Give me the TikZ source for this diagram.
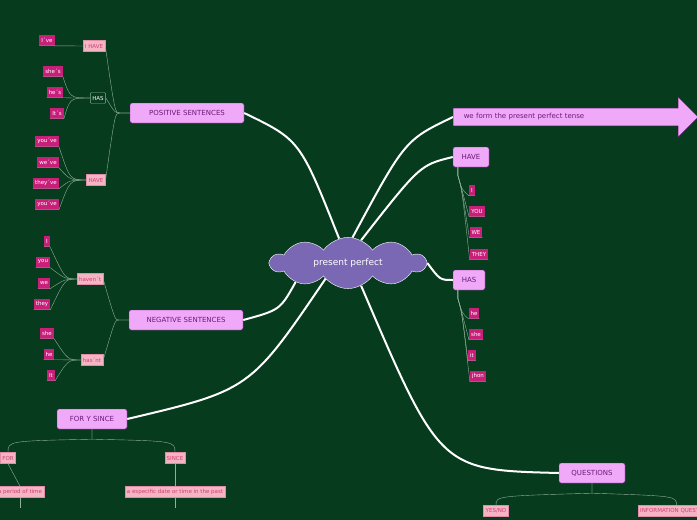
\documentclass[tikz,border=0pt]{standalone}
\usepackage{fontspec}
\setmainfont{DejaVu Sans}
\usetikzlibrary{shapes.symbols,shapes.arrows}
\definecolor{bg}{HTML}{073B1E}
\definecolor{topic}{HTML}{F0A8F8}
\definecolor{topicb}{HTML}{6A1B7A}
\definecolor{mag}{HTML}{C8207A}
\definecolor{lpink}{HTML}{F4B4C4}
\definecolor{lpinkt}{HTML}{D04070}
\definecolor{branch}{HTML}{8FB09A}
\definecolor{cloudc}{HTML}{7B68B4}
\tikzset{
 topic/.style={draw=topicb,fill=topic,rounded corners=2pt,text=topicb,font=\scriptsize,inner sep=4pt,minimum height=20pt},
 word/.style={fill=mag,text=white,font=\fontsize{5.5}{6}\selectfont,inner sep=2pt,minimum height=11pt},
 verb/.style={draw=lpinkt!60,fill=lpink,text=lpinkt,font=\fontsize{5.5}{6}\selectfont,inner sep=2pt,minimum height=11pt},
 main/.style={white,line width=2pt},
 sub/.style={branch,thin}
}
\begin{document}
\begin{tikzpicture}[x=1pt,y=-1pt]
\fill[bg] (0,0) rectangle (697,520);
\useasboundingbox (0,0) rectangle (697,520);
\clip (0,0) rectangle (697,520);
% main topics
\node[cloud,cloud puffs=10,cloud puff arc=110,aspect=3,fill=cloudc,draw=white,text=white,font=\small,minimum width=155pt,minimum height=48pt] (pp) at (348,263) {present perfect};
\node[topic,minimum width=114pt] (pos) at (187,113) {POSITIVE SENTENCES};
\node[topic,minimum width=114pt] (neg) at (186,320) {NEGATIVE SENTENCES};
\node[topic,minimum width=70pt] (fys) at (92,419) {FOR Y SINCE};
\node[single arrow,draw=topicb,fill=topic,text=topicb,font=\scriptsize,minimum height=245pt,minimum width=40pt,single arrow head extend=7pt,inner sep=2pt,anchor=west,text width=215pt] (form) at (453,117) {we form the present perfect tense};
\node[topic,minimum width=36pt] (have) at (471,157) {HAVE};
\node[topic,minimum width=32pt] (has) at (469,280) {HAS};
\node[topic,minimum width=66pt] (qst) at (592,473) {QUESTIONS};
\draw[main] (pp.110) .. controls (300,140) .. (pos.east);
\draw[main] (pp.200) .. controls (280,310) .. (neg.east);
\draw[main] (pp.215) .. controls (250,390) .. (fys.east);
\draw[main] (pp.80) .. controls (405,140) .. (form.west);
\draw[main] (pp.60) .. controls (420,165) .. (have.west);
\draw[main] (pp.0) .. controls (440,280) .. (has.west);
\draw[main] (pp.300) .. controls (440,470) .. (qst.west);
% positive
\node[verb] (ihave) at (94,46) {I HAVE};
\node[word] (ive) at (47,40) {I´ve};
\node[draw=branch,fill=bg,text=white,rounded corners=1pt,font=\fontsize{5.5}{6}\selectfont,inner sep=2pt,minimum height=11pt] (hasp) at (98,98) {HAS};
\node[word] (shes) at (53,71) {she´s};
\node[word] (hes) at (55,92) {he´s};
\node[word] (its) at (57,113) {It´s};
\node[verb] (havep) at (96,180) {HAVE};
\node[word] (youve) at (47,141) {you´ve};
\node[word] (weve) at (48,162) {we´ve};
\node[word] (theyve) at (46,183) {they´ve};
\node[word] (youve2) at (47,204) {you´ve};
\foreach \v in {ihave,hasp,havep} \draw[sub] (pos.west) -- ++(-10,0) .. controls (115,113) .. (\v.east);
\draw[sub] (ihave.west) -- (ive.south west);
\foreach \w in {shes,hes,its} \draw[sub] (hasp.west) .. controls (70,98) .. (\w.south east) -- (\w.south west);
\foreach \w in {youve,weve,theyve,youve2} \draw[sub] (havep.west) .. controls (70,180) .. (\w.south east) -- (\w.south west);
% negative
\node[verb] (havent) at (90,279) {haven´t};
\node[word] (ni) at (47,241) {I};
\node[word] (nyou) at (43,262) {you};
\node[word] (nwe) at (44,283) {we};
\node[word] (nthey) at (42,304) {they};
\node[verb] (hasnt) at (92,360) {has´nt};
\node[word] (nshe) at (47,333) {she};
\node[word] (nhe) at (49,354) {he};
\node[word] (nit) at (51,375) {It};
\foreach \v in {havent,hasnt} \draw[sub] (neg.west) -- ++(-10,0) .. controls (115,320) .. (\v.east);
\foreach \w in {ni,nyou,nwe,nthey} \draw[sub] (havent.west) .. controls (65,279) .. (\w.south east) -- (\w.south west);
\foreach \w in {nshe,nhe,nit} \draw[sub] (hasnt.west) .. controls (68,360) .. (\w.south east) -- (\w.south west);
% for y since
\node[verb] (for) at (8,458) {FOR};
\node[verb] (since) at (175,458) {SINCE};
\node[verb] (period) at (20,492) {a period of time};
\node[verb] (date) at (175,492) {a especific date or time in the past};
\foreach \v in {for,since} \draw[sub] (fys.south) -- ++(0,10) .. controls (\v |- 0,441) .. (\v.north);
\draw[sub] (for.south) -- (period.north);
\draw[sub] (since.south) -- (date.north);
\draw[sub] (period.south) -- ++(0,10);
\draw[sub] (date.south) -- ++(0,10);
% have / has
\node[word] (hi) at (472,190) {I};
\node[word] (hyou) at (477,211) {YOU};
\node[word] (hwe) at (476,232) {WE};
\node[word] (hthey) at (479,254) {THEY};
\node[word] (she) at (474,313) {he};
\node[word] (sshe) at (476,334) {she};
\node[word] (sit) at (472,355) {it};
\node[word] (sjhon) at (478,376) {jhon};
\foreach \w in {hi,hyou,hwe,hthey} \draw[sub] (have.south west)+(5,0) -- ++(5,8) .. controls (462,190) .. (\w.south west) -- (\w.south east);
\foreach \w in {she,sshe,sit,sjhon} \draw[sub] (has.south west)+(5,0) -- ++(5,8) .. controls (462,313) .. (\w.south west) -- (\w.south east);
% questions
\node[verb] (yesno) at (496,511) {YES/NO};
\node[verb,anchor=west] (info) at (638,511) {INFORMATION QUESTIONS};
\foreach \v in {yesno,info} \draw[sub] (qst.south) -- ++(0,10) .. controls (\v |- 0,496) .. (\v.north);
\end{tikzpicture}
\end{document}
